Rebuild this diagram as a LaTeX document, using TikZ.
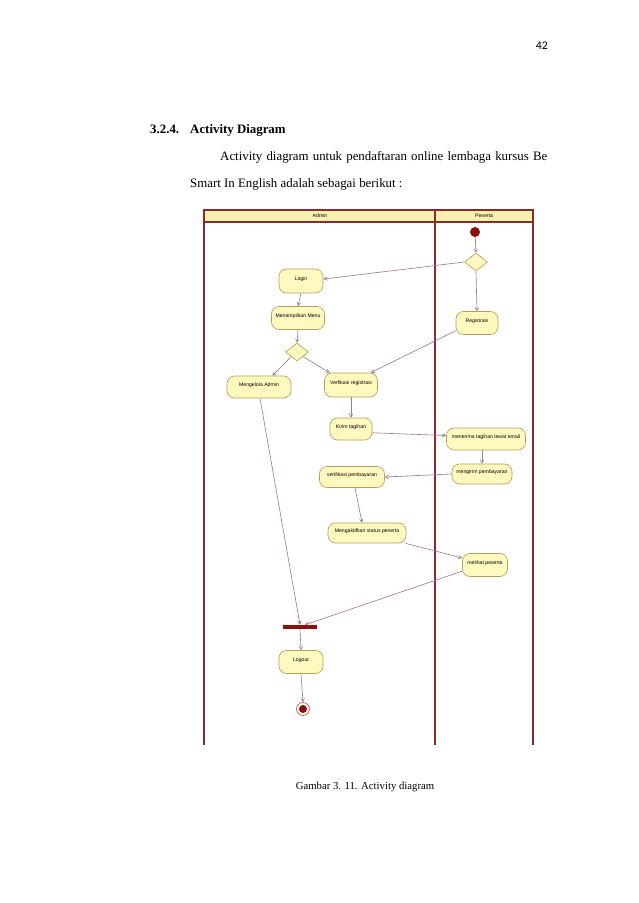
\documentclass[tikz,border=0pt]{standalone}
\usepackage{fontspec}
\setmainfont{Liberation Serif}
\newfontfamily\diafont{Liberation Sans}
\newfontfamily\pgnumfont{Carlito}
\usetikzlibrary{arrows.meta,shapes.geometric,calc}
\definecolor{lanecol}{HTML}{8A2B2B}
\definecolor{actfill}{HTML}{FFF9BF}
\definecolor{actdraw}{HTML}{B59F5A}
\definecolor{flowcol}{HTML}{A27C8C}
\definecolor{dotcol}{HTML}{8E0E0E}
\definecolor{headfill}{HTML}{FAF0B0}
\definecolor{endring}{HTML}{C84848}
\begin{document}
\begin{tikzpicture}[x=0.9326pt,y=-0.9326pt,
  act/.style 2 args={draw=actdraw, fill=actfill, rounded corners=7pt,
    minimum width=#1*0.9326pt, minimum height=#2*0.9326pt, inner sep=0pt,
    text height=3.2pt, text depth=4pt,
    font=\diafont\fontsize{4.8}{5}\selectfont, line width=0.6pt},
  dec/.style={diamond, draw=actdraw, fill=actfill, aspect=1.3,
    minimum width=23*0.9326pt, minimum height=18*0.9326pt, inner sep=0pt, line width=0.6pt},
  flowline/.style={draw=flowcol, line width=0.6pt, -{Straight Barb[length=3pt,width=3.2pt]}},
  body/.style={anchor=base west, inner sep=0pt, font=\fontsize{12}{14}\selectfont},
  lane/.style={draw=lanecol, line width=1pt},
  headtxt/.style={font=\diafont\fontsize{4.8}{5}\selectfont, inner sep=0pt}
]
\fill[white] (0,0) rectangle (638,903);
\useasboundingbox (0,0) rectangle (638,903);

% page text
\node[anchor=base east, font=\pgnumfont\fontsize{11}{13}\selectfont, inner sep=0pt] (pgnum) at (548,50) {42};
\node[body, font=\bfseries\fontsize{12}{14}\selectfont] (secnum) at (150,134) {3.2.4.};
\node[body, font=\bfseries\fontsize{12}{14}\selectfont] (sectitle) at (190,134) {Activity Diagram};
\node[body] (para1) at (220,161) {\makebox[305pt][s]{Activity diagram untuk pendaftaran online lembaga kursus Be}};
\node[body] (para2) at (190,188) {Smart In English adalah sebagai berikut :};
\node[anchor=base, inner sep=0pt, font=\fontsize{10}{12}\selectfont] (caption) at (365,789) {Gambar 3. 11. Activity diagram};

% swimlanes
\draw[lane, fill=headfill] (204,210) rectangle (533,222);
\draw[lane] (204,222) -- (204,745) (533,222) -- (533,745);
\draw[lane, line width=1.4pt] (435,210) -- (435,745);
\node[headtxt] (hadmin) at (320,216) {Admin};
\node[headtxt] (hpeserta) at (484,216) {Peserta};

% nodes
\node[circle, fill=dotcol, minimum size=10*0.9326pt, inner sep=0pt] (start) at (475,232) {};
\node[dec] (d1) at (476,262) {};
\node[act={44}{24}] (login) at (301,281) {Login};
\node[act={53}{23}] (menu) at (298,318) {Menampilkan Menu};
\node[dec] (d2) at (297,352) {};
\node[act={42}{23}] (reg) at (477,323) {Registrasi};
\node[act={64}{22}] (admin) at (259,387) {Mengelola Admin};
\node[act={53}{24}] (vreg) at (351,385) {Verfikasi registrasi};
\node[act={42}{22}] (kirim) at (351,429) {Kirim tagihan};
\node[act={79}{22}] (terima) at (486,439) {menerima tagihan lewat email};
\node[act={60}{20}] (kbayar) at (482,474) {mengirim pembayaran};
\node[act={65}{21}] (vbayar) at (352,477) {verifikasi pembayaran};
\node[act={78}{20}] (aktif) at (367,533) {Mengaktifkan status peserta};
\node[act={45}{23}] (lihat) at (485,565) {melihat peserta};
\node[rectangle, fill=dotcol, minimum width=34*0.9326pt, minimum height=4*0.9326pt, inner sep=0pt] (join) at (300,627) {};
\node[act={44}{23}] (logout) at (301,662) {Logout};
\node[circle, draw=endring, fill=white, minimum size=13*0.9326pt, inner sep=0pt, line width=0.6pt] (final) at (303,709) {};
\node[circle, fill=dotcol, minimum size=8*0.9326pt, inner sep=0pt] (finalin) at (final.center) {};

% flows
\draw[flowline] (start) -- (d1.north);
\draw[flowline] (d1.west) -- (login.5);
\draw[flowline] (d1.south) -- (reg.north);
\draw[flowline] (login.south) -- (menu.north);
\draw[flowline] (menu.south) -- (d2.north);
\draw[flowline] (d2.south west) -- (admin.40);
\draw[flowline] (d2.south east) -- (vreg.150);
\draw[flowline] (reg.200) -- (vreg.32);
\draw[flowline] (vreg.south) -- (kirim.north);
\draw[flowline] (kirim.-10) -- (terima.175);
\draw[flowline] (kbayar.north |- terima.south) -- (kbayar.north);
\draw[flowline] (kbayar.west) -- (vbayar.east);
\draw[flowline] ($(vbayar.south)+(3,0)$) -- ($(aktif.north)+(-5,0)$);
\draw[flowline] (aktif.-15) -- (lihat.163);
\draw[flowline] (lihat.195) -- ($(join.north)+(5,0)$);
\draw[flowline] ($(admin.south)+(1,0)$) -- (join.north);
\draw[flowline] (join.south) -- (logout.north);
\draw[flowline] (logout.south) -- (final.north);
\end{tikzpicture}
\end{document}
